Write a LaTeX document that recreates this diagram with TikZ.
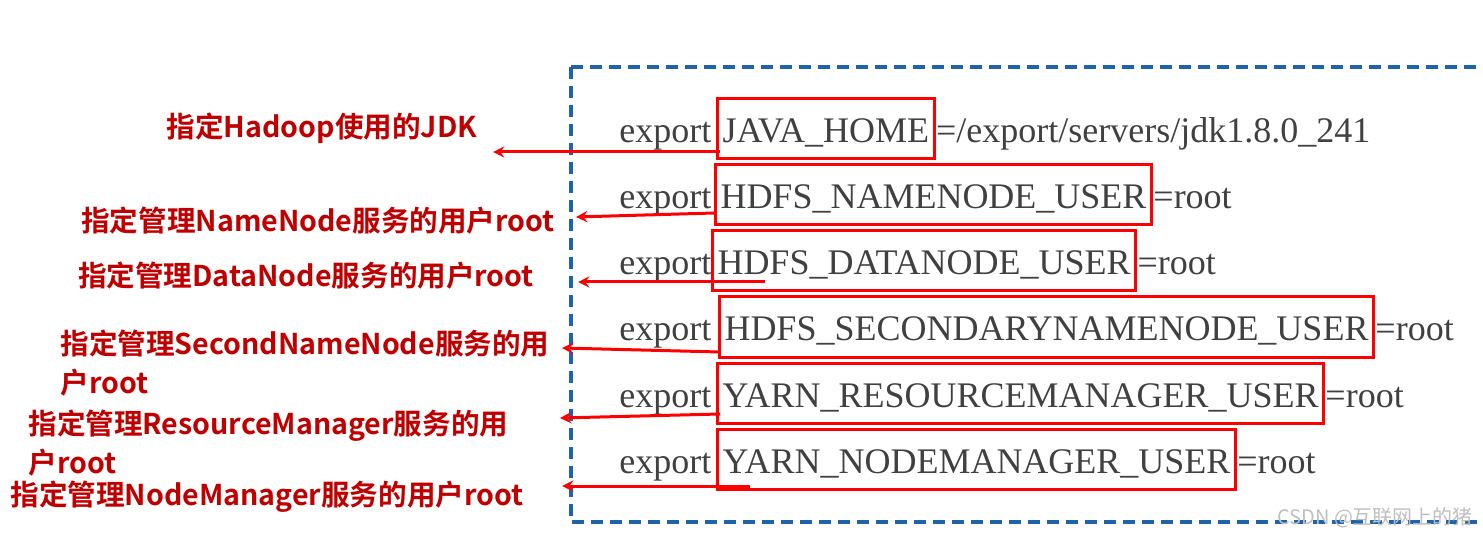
\documentclass[tikz,border=0pt]{standalone}
\usepackage{fontspec}
\setmainfont{Liberation Serif}
\newfontfamily\cjk{Noto Sans CJK SC}[BoldFont={* Bold}]
\usepackage[dvipsnames]{xcolor}
\definecolor{boxblue}{HTML}{1F63A8}
\definecolor{notered}{HTML}{C00000}
\usetikzlibrary{positioning}
\tikzset{
  code/.style={anchor=base west, text=black!75, font=\fontsize{18}{20}\selectfont, inner sep=0pt},
  key/.style={code, draw=red, line width=1.5pt, anchor=base west, inner xsep=2.5pt, inner ysep=0pt, text depth=8pt, text height=22pt},
  note/.style={text=notered, font=\cjk\bfseries\fontsize{14.3}{19.5}\selectfont, inner sep=0pt, align=left},
  pointer/.style={red, line width=1.5pt, -stealth}
}
\begin{document}
\begin{tikzpicture}[x=0.5pt, y=-0.5pt]
  \useasboundingbox (0, 0) rectangle (1483, 545);
  \draw[boxblue, line width=1.6pt, dash pattern=on 6pt off 3.5pt] (571, 67) rectangle (1490, 522);
  % code lines
  \node[code] (x1) at (619, 143) {export};
  \node[key] (k1) at (716, 143) {JAVA\_HOME};
  \node[code, right=0pt of k1.base east, anchor=base west] (v1) {=/export/servers/jdk1.8.0\_241};
  \node[code] (x2) at (619, 209) {export};
  \node[key] (k2) at (714, 209) {HDFS\_NAMENODE\_USER};
  \node[code, right=0pt of k2.base east, anchor=base west] (v2) {=root};
  \node[code] (x3) at (619, 275) {export};
  \node[key] (k3) at (711, 275) {HDFS\_DATANODE\_USER};
  \node[code, right=0pt of k3.base east, anchor=base west] (v3) {=root};
  \node[code] (x4) at (619, 341) {export};
  \node[key] (k4) at (718, 341) {HDFS\_SECONDARYNAMENODE\_USER};
  \node[code, right=0pt of k4.base east, anchor=base west] (v4) {=root};
  \node[code] (x5) at (619, 407) {export};
  \node[key] (k5) at (716, 407) {YARN\_RESOURCEMANAGER\_USER};
  \node[code, right=0pt of k5.base east, anchor=base west] (v5) {=root};
  \node[code] (x6) at (619, 473) {export};
  \node[key] (k6) at (716, 473) {YARN\_NODEMANAGER\_USER};
  \node[code, right=0pt of k6.base east, anchor=base west] (v6) {=root};
  % notes
  \node[note] (n1) at (322, 128) {指定Hadoop使用的JDK};
  \node[note] (n2) at (318, 221) {指定管理NameNode服务的用户root};
  \node[note] (n3) at (306, 276) {指定管理DataNode服务的用户root};
  \node[note, anchor=north west] (n4) at (60, 330) {指定管理SecondNameNode服务的用\\户root};
  \node[note, anchor=north west] (n5) at (28, 410) {指定管理ResourceManager服务的用\\户root};
  \node[note, anchor=west] (n6) at (10, 497) {指定管理NodeManager服务的用户root};
  % pointers
  \coordinate (s1) at (720, 152); \coordinate (e1) at (493, 152);
  \coordinate (s2) at (714, 213); \coordinate (e2) at (576, 217);
  \coordinate (s3) at (765, 282); \coordinate (e3) at (578, 282);
  \coordinate (s4) at (720, 352); \coordinate (e4) at (562, 348);
  \coordinate (s5) at (720, 414); \coordinate (e5) at (560, 418);
  \coordinate (s6) at (750, 486); \coordinate (e6) at (562, 486);
  \foreach \i in {1,...,6}
    \draw[pointer] (s\i) -- (e\i);
  \node[text=black!25, font=\cjk\fontsize{10}{12}\selectfont, anchor=east] (wm) at (1480, 518) {CSDN @互联网上的猪};
\end{tikzpicture}
\end{document}
